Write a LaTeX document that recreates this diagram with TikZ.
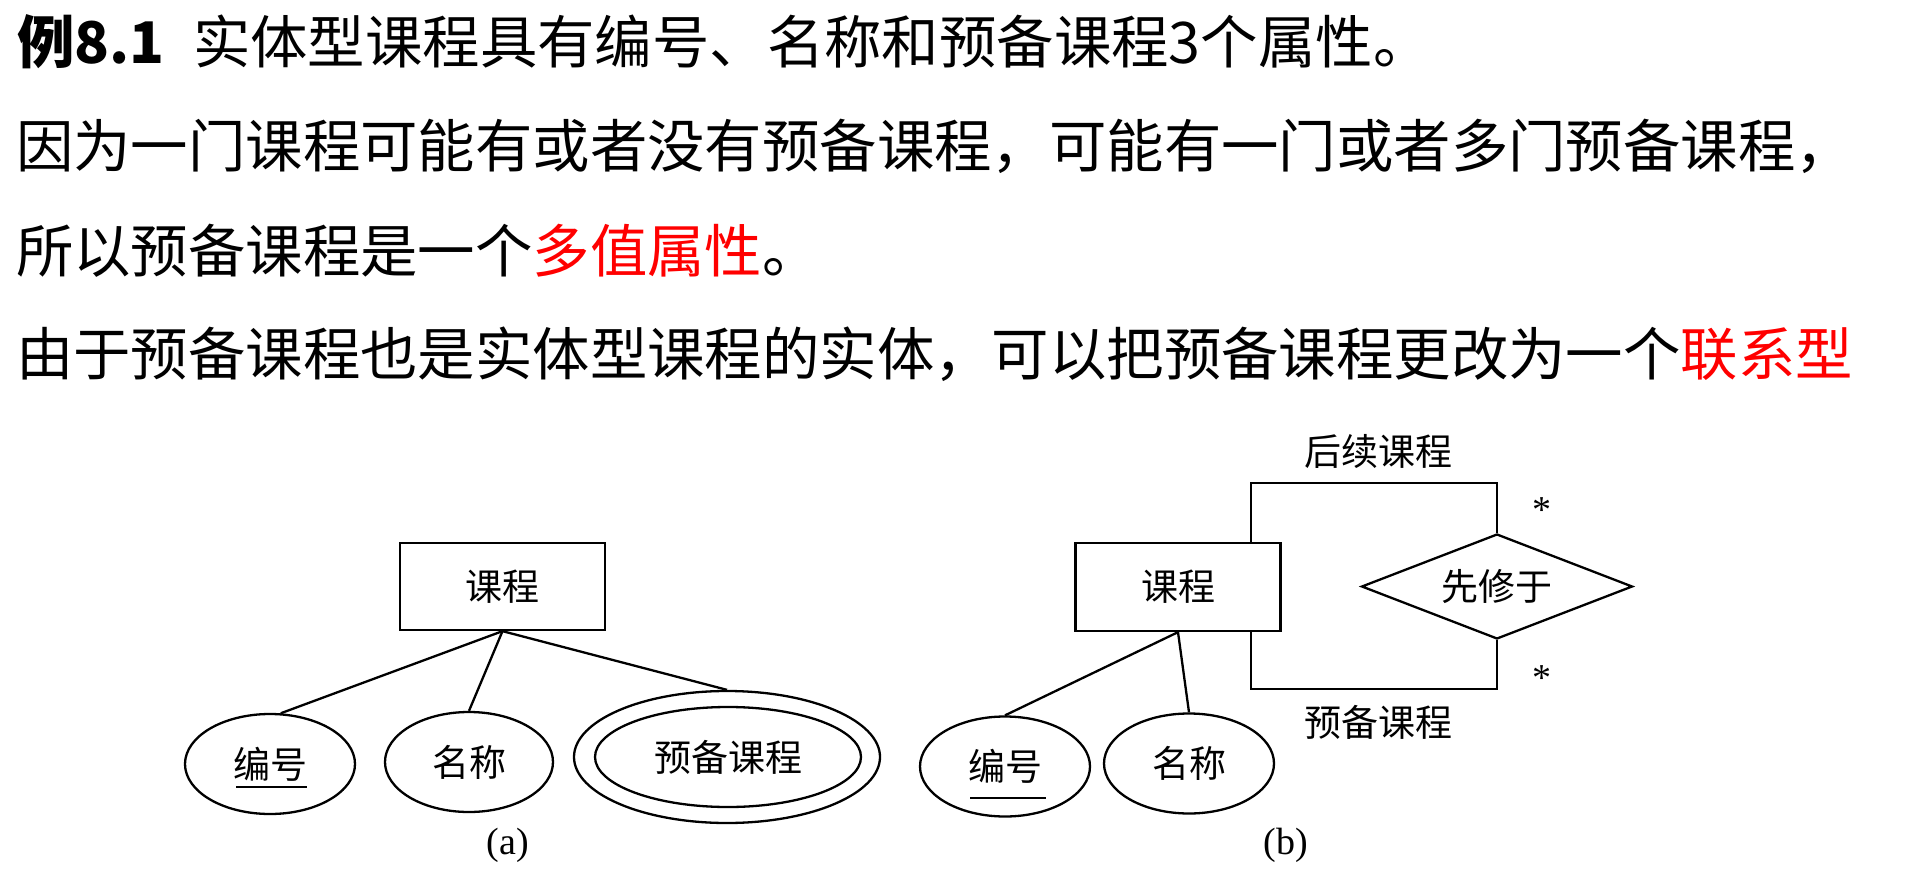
\documentclass[tikz,border=0pt]{standalone}
\usepackage{fontspec}
\newfontfamily\cjk{Noto Sans CJK SC}
\newfontfamily\tms{Liberation Serif}
\usetikzlibrary{shapes.geometric,calc}
\begin{document}
\begin{tikzpicture}[x=1pt,y=-1pt,line width=2.3pt,
  body/.style={font=\cjk\fontsize{57.4}{60}\selectfont, anchor=base west, inner sep=0pt},
  ent/.style={draw, rectangle, minimum width=205pt, minimum height=87pt, inner sep=0pt, font=\cjk\fontsize{37}{40}\selectfont},
  attr/.style={draw, ellipse, minimum width=170pt, minimum height=100pt, inner sep=0pt, font=\cjk\fontsize{37}{40}\selectfont},
  relbox/.style={draw, diamond, aspect=2.6, minimum width=271pt, minimum height=105pt, inner sep=0pt, font=\cjk\fontsize{37}{40}\selectfont},
  lbl/.style={inner sep=0pt, font=\cjk\fontsize{37}{40}\selectfont},
  subcap/.style={inner sep=0pt, font=\tms\fontsize{38}{40}\selectfont},
  mult/.style={inner sep=0pt, font=\tms\fontsize{38}{40}\selectfont}]
\useasboundingbox (0,0) rectangle (1905,896);
\fill[white] (0,0) rectangle (1905,896);
% text lines
\node[body] (t1a) at (16,64) {\bfseries 例8.1};
\node[body] (t1b) at (192,64) {实体型课程具有编号、名称和预备课程3个属性。};
\node[body] (t2) at (15,168) {因为一门课程可能有或者没有预备课程，可能有一门或者多门预备课程，};
\node[body] (t3) at (15,272) {所以预备课程是一个\textcolor{red}{多值属性}。};
\node[body] (t4) at (15,375) {由于预备课程也是实体型课程的实体，可以把预备课程更改为一个\textcolor{red}{联系型}};
% diagram (a)
\node[ent] (a0) at (502.5,586.5) {课程};
\node[attr] (a1) at (270,764) {编号};
\node[attr, minimum width=168pt] (a2) at (469,762) {名称};
\node[draw, ellipse, minimum width=306pt, minimum height=132pt, inner sep=0pt] (a3) at (727,757) {};
\node[attr, minimum width=266pt, minimum height=100pt] (a3i) at (728,757) {预备课程};
\draw (a0.south) -- (a1.78);
\draw (a0.south) -- (a2.north);
\draw (a0.south) -- (a3.north);
\draw ([xshift=-34pt,yshift=-23pt]a1.center) -- ([xshift=37pt,yshift=-23pt]a1.center);
\node[subcap] (ca) at (508,845) {(a)};
% diagram (b)
\node[ent, minimum height=88pt] (b0) at (1178,587) {课程};
\node[attr] (b1) at (1005,766.5) {编号};
\node[attr] (b2) at (1189,763.5) {名称};
\node[relbox] (r) at (1497,586.5) {先修于};
\coordinate (lt) at (1251,483);
\coordinate (lb) at (1251,689);
\draw (b0.north -| lt) -- (lt) -| (r.north);
\draw (b0.south -| lb) -- (lb) -| (r.south);
\draw (b0.south) -- (b1.north);
\draw (b0.south) -- (b2.north);
\draw ([xshift=-35pt,yshift=-31.5pt]b1.center) -- ([xshift=41pt,yshift=-31.5pt]b1.center);
\node[lbl] (l1) at (1378.5,451) {后续课程};
\node[lbl] (l2) at (1378,722) {预备课程};
\node[mult] (s1) at (1542,510) {*};
\node[mult] (s2) at (1542,678) {*};
\node[subcap] (cb) at (1286,845) {(b)};
\end{tikzpicture}
\end{document}
